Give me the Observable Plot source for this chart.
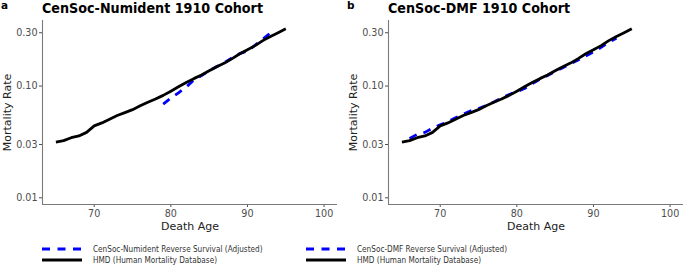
<!DOCTYPE html>
<html>
<head>
<meta charset="utf-8">
<script src="https://cdn.jsdelivr.net/npm/d3@7"></script>
<script src="https://cdn.jsdelivr.net/npm/@observablehq/plot@0.6"></script>
<style>
  html, body { margin: 0; padding: 0; background: white; }
  #fig { position: relative; width: 685px; height: 267px; overflow: hidden; font-family: "DejaVu Sans", sans-serif; }
  #fig > svg.panel { position: absolute; top: 0; }
  #overlay { position: absolute; left: 0; top: 0; }
</style>
</head>
<body>
<div id="fig"></div>
<script>
// ---- data ----
const hmdAges = [65,66,67,68,69,70,71,72,73,74,75,76,77,78,79,80,81,82,83,84,85,86,87,88,89,90,91,92,93,94,95];
const hmdRates = [0.0315,0.0325,0.0345,0.0358,0.0385,0.0440,0.0468,0.0505,0.0545,0.0578,0.0615,0.0665,0.0715,0.0765,0.0825,0.0900,0.0985,0.1075,0.1165,0.1255,0.1370,0.1490,0.1605,0.1760,0.1945,0.2110,0.2300,0.2550,0.2780,0.3000,0.3250];

const numidentAges = [79,80,81,82,83,84,85,86,87,88,89,90,91,92,93];
const numidentRates = [0.0690,0.0780,0.0870,0.0980,0.1130,0.1240,0.1370,0.1495,0.1620,0.1790,0.1950,0.2060,0.2320,0.2620,0.3000];

const dmfAges = [66,67,68,69,70,71,72,73,74,75,76,77,78,79,80,81,82,83,84,85,86,87,88,89,90,91,92,93];
const dmfRates = [0.0340,0.0370,0.0385,0.0420,0.0450,0.0480,0.0520,0.0560,0.0600,0.0630,0.0670,0.0720,0.0780,0.0840,0.0890,0.0950,0.1050,0.1150,0.1240,0.1350,0.1460,0.1580,0.1710,0.1860,0.2020,0.2220,0.2480,0.2680];

const xTicks = [70, 80, 90, 100];
const yTicks = [0.01, 0.03, 0.10, 0.30];

const panels = [
  {tag: "a", title: "CenSoc-Numident 1910 Cohort", legendLabel: "CenSoc-Numident Reverse Survival (Adjusted)", ages: numidentAges, rates: numidentRates},
  {tag: "b", title: "CenSoc-DMF 1910 Cohort", legendLabel: "CenSoc-DMF Reverse Survival (Adjusted)", ages: dmfAges, rates: dmfRates}
];
const hmdLabel = "HMD (Human Mortality Database)";

// ---- layout ----
const xDomain = [63.25, 101.75];
const yDomain = [0.00871, 0.386];
const layout = [
  {left: 0, width: 346, marginRight: 9, legendX: 42, titleLen: 221, legendLen: 169.5, hmdLen: 124},
  {left: 346, width: 339, marginRight: 2, legendX: 306, titleLen: 182, legendLen: 150, hmdLen: 124}
];

const fig = document.getElementById("fig");
const toRows = (ages, rates) => ages.map((a, i) => ({age: a, rate: rates[i]}));
const hmdRows = toRows(hmdAges, hmdRates);

panels.forEach((p, i) => {
  const L = layout[i];
  const svg = Plot.plot({
    width: L.width,
    height: 235,
    marginTop: 20,
    marginBottom: 31,
    marginLeft: 42,
    marginRight: L.marginRight,
    style: "font-family: 'DejaVu Sans', sans-serif; font-size: 9.6px; color: #4d4d4d; background: white; overflow: visible;",
    x: {domain: xDomain, ticks: xTicks, tickSize: 3, tickPadding: 3, label: null},
    y: {type: "log", domain: yDomain, ticks: yTicks, tickFormat: d3.format(".2f"), tickSize: 3, tickPadding: 2, label: null},
    marks: [
      Plot.ruleX([xDomain[0]], {stroke: "#7a7a7a", strokeWidth: 1.1}),
      Plot.ruleY([yDomain[0]], {stroke: "#7a7a7a", strokeWidth: 1.1}),
      Plot.line(toRows(p.ages, p.rates), {x: "age", y: "rate", stroke: "#0000ff", strokeWidth: 2.8, strokeDasharray: "8,7", strokeLinecap: "butt"}),
      Plot.line(hmdRows, {x: "age", y: "rate", stroke: "black", strokeWidth: 2.8, strokeLinejoin: "round", strokeLinecap: "butt"}),
      Plot.text(["Death Age"], {frameAnchor: "bottom", lineAnchor: "middle", dy: 21.5, fontSize: 11, fill: "#222"}),
      Plot.text(["Mortality Rate"], {frameAnchor: "left", textAnchor: "middle", lineAnchor: "middle", rotate: -90, dx: -35, fontSize: 11, fill: "#222"})
    ]
  });
  svg.classList.add("panel");
  svg.style.left = L.left + "px";
  fig.appendChild(svg);
});

// ---- titles and legends (overlay) ----
const ns = "http://www.w3.org/2000/svg";
const ov = document.createElementNS(ns, "svg");
ov.setAttribute("id", "overlay");
ov.setAttribute("width", 685);
ov.setAttribute("height", 267);
function addText(x, y, str, attrs) {
  const t = document.createElementNS(ns, "text");
  t.setAttribute("x", x); t.setAttribute("y", y);
  for (const k in attrs) t.setAttribute(k, attrs[k]);
  t.textContent = str;
  ov.appendChild(t);
}
function addLine(x1, x2, y, attrs) {
  const l = document.createElementNS(ns, "line");
  l.setAttribute("x1", x1); l.setAttribute("x2", x2);
  l.setAttribute("y1", y); l.setAttribute("y2", y);
  for (const k in attrs) l.setAttribute(k, attrs[k]);
  ov.appendChild(l);
}
panels.forEach((p, i) => {
  const L = layout[i];
  addText(L.left + 1, 9, p.tag, {"font-family": "DejaVu Sans", "font-weight": "bold", "font-size": "10.5px", fill: "#000"});
  addText(L.left + 42, 12.5, p.title, {"font-family": "DejaVu Sans", "font-weight": "bold", "font-size": "14px", fill: "#000", textLength: L.titleLen, lengthAdjust: "spacingAndGlyphs"});
  addLine(L.legendX, L.legendX + 40, 249, {stroke: "#0000ff", "stroke-width": 2.8, "stroke-dasharray": "8,7.5"});
  addLine(L.legendX, L.legendX + 40, 260, {stroke: "#000", "stroke-width": 2.8});
  const tAttrs = {"font-family": "DejaVu Sans", "font-size": "9px", fill: "#333", "dominant-baseline": "central", lengthAdjust: "spacingAndGlyphs"};
  addText(L.legendX + 51, 249, p.legendLabel, {...tAttrs, textLength: L.legendLen});
  addText(L.legendX + 51, 260, hmdLabel, {...tAttrs, textLength: L.hmdLen});
});
fig.appendChild(ov);
</script>
</body>
</html>
